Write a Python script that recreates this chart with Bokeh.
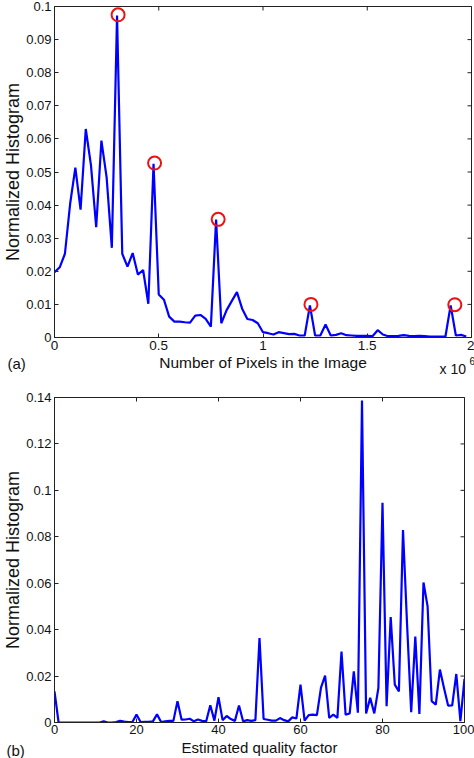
import math
from bokeh.plotting import figure
from bokeh.models import FixedTicker, Title, Range1d
from bokeh.layouts import column
from bokeh.embed import file_html
from bokeh.resources import INLINE

# ---------------- data (a) ----------------
pixels_millions = [0.000, 0.025, 0.050, 0.075, 0.100, 0.125, 0.150, 0.175, 0.200, 0.225,
                   0.250, 0.275, 0.300, 0.325, 0.350, 0.375, 0.400, 0.425, 0.450, 0.475,
                   0.500, 0.525, 0.550, 0.575, 0.600, 0.625, 0.650, 0.675, 0.700, 0.725,
                   0.750, 0.775, 0.800, 0.825, 0.850, 0.875, 0.900, 0.925, 0.950, 0.975,
                   1.000, 1.025, 1.050, 1.075, 1.100, 1.125, 1.150, 1.175, 1.200, 1.225,
                   1.250, 1.275, 1.300, 1.325, 1.350, 1.375, 1.400, 1.425, 1.450, 1.475,
                   1.500, 1.525, 1.550, 1.575, 1.600, 1.625, 1.650, 1.675, 1.700, 1.725,
                   1.750, 1.775, 1.800, 1.825, 1.850, 1.875, 1.900, 1.925, 1.950, 1.975]
hist_a = [0.0197, 0.0212, 0.0253, 0.0404, 0.0513, 0.0386, 0.0630, 0.0520, 0.0333, 0.0595,
          0.0484, 0.0271, 0.0973, 0.0253, 0.0214, 0.0255, 0.0190, 0.0204, 0.0102, 0.0525,
          0.0130, 0.0114, 0.0063, 0.0048, 0.0048, 0.0046, 0.0045, 0.0066, 0.0068, 0.0056,
          0.0033, 0.0356, 0.0043, 0.0082, 0.0110, 0.0137, 0.0087, 0.0056, 0.0053, 0.0043,
          0.0016, 0.0013, 0.0009, 0.0016, 0.0013, 0.0010, 0.0011, 0.0006, 0.0006, 0.0097,
          0.0006, 0.0006, 0.0039, 0.0006, 0.0008, 0.0013, 0.0007, 0.0006, 0.0005, 0.0005,
          0.0005, 0.0004, 0.0022, 0.0009, 0.0004, 0.0004, 0.0005, 0.0007, 0.0005, 0.0004,
          0.0005, 0.0004, 0.0003, 0.0003, 0.0003, 0.0003, 0.0097, 0.0006, 0.0008, 0.0003]
peak_x = [0.305, 0.480, 0.785, 1.230, 1.920]
peak_y = [0.0975, 0.0527, 0.0357, 0.0100, 0.0099]

a_xticks = [0, 0.5, 1, 1.5, 2]
a_xlabels = ["0", "0.5", "1", "1.5", "2"]
a_yticks = [0, 0.01, 0.02, 0.03, 0.04, 0.05, 0.06, 0.07, 0.08, 0.09, 0.1]
a_ylabels = ["0", "0.01", "0.02", "0.03", "0.04", "0.05", "0.06", "0.07", "0.08", "0.09", "0.1"]

# ---------------- data (b) ----------------
quality = [0, 1, 2, 3, 4, 5, 6, 7, 8, 9, 10, 11, 12, 13, 14, 15, 16, 17, 18, 19, 20,
           21, 22, 23, 24, 25, 26, 27, 28, 29, 30, 31, 32, 33, 34, 35, 36, 37, 38, 39, 40,
           41, 42, 43, 44, 45, 46, 47, 48, 49, 50, 51, 52, 53, 54, 55, 56, 57, 58, 59, 60,
           61, 62, 63, 64, 65, 66, 67, 68, 69, 70, 71, 72, 73, 74, 75, 76, 77, 78, 79, 80,
           81, 82, 83, 84, 85, 86, 87, 88, 89, 90, 91, 92, 93, 94, 95, 96, 97, 98, 99, 100]
hist_b = [0.0134, 0.0, 0.0, 0.0, 0.0, 0.0, 0.0, 0.0, 0.0, 0.0, 0.0,
          0.0, 0.0005, 0.0, 0.0, 0.0002, 0.0007, 0.0004, 0.0002, 0.0002, 0.0034,
          0.0002, 0.0003, 0.0003, 0.0005, 0.0035, 0.0002, 0.0005, 0.0007, 0.0007, 0.0092,
          0.0012, 0.0013, 0.0016, 0.0005, 0.0013, 0.0007, 0.0005, 0.0074, 0.0008, 0.0109,
          0.0010, 0.0028, 0.0015, 0.0007, 0.0073, 0.0005, 0.0010, 0.0007, 0.0010, 0.0364,
          0.0015, 0.0012, 0.0008, 0.0008, 0.0019, 0.0010, 0.0005, 0.0022, 0.0017, 0.0163,
          0.0008, 0.0032, 0.0034, 0.0032, 0.0150, 0.0202, 0.0020, 0.0034, 0.0020, 0.0306,
          0.0034, 0.0039, 0.0220, 0.0042, 0.1387, 0.0039, 0.0106, 0.0039, 0.0149, 0.0946,
          0.0070, 0.0454, 0.0163, 0.0134, 0.0829, 0.0420, 0.0044, 0.0370, 0.0037, 0.0603,
          0.0500, 0.0092, 0.0077, 0.0228, 0.0149, 0.0073, 0.0074, 0.0209, 0.0006, 0.0188]

b_xticks = [0, 20, 40, 60, 80, 100]
b_xlabels = ["0", "20", "40", "60", "80", "100"]
b_yticks = [0, 0.02, 0.04, 0.06, 0.08, 0.1, 0.12, 0.14]
b_ylabels = ["0", "0.02", "0.04", "0.06", "0.08", "0.1", "0.12", "0.14"]

FONT = "Liberation Sans"
BLUE = "#0000ff"
INK = "#111111"


def style_axis(ax, ticks, labels, size, standoff):
    ax.ticker = FixedTicker(ticks=ticks)
    ax.major_label_overrides = {t: l for t, l in zip(ticks, labels)}
    ax.major_tick_in = 4
    ax.major_tick_out = 0
    ax.minor_tick_line_color = None
    ax.axis_line_color = "#222222"
    ax.major_tick_line_color = "#222222"
    ax.major_label_text_font = FONT
    ax.major_label_text_font_size = size
    ax.major_label_text_color = INK
    ax.major_label_standoff = standoff
    ax.axis_label_text_font = FONT
    ax.axis_label_text_font_style = "normal"
    ax.axis_label_text_color = INK


def make_fig(width, height, xr, yr, borders):
    p = figure(width=width, height=height, x_range=Range1d(*xr), y_range=Range1d(*yr),
               output_backend="svg", toolbar_location=None,
               min_border_left=borders[0], min_border_right=borders[1],
               min_border_top=borders[2], min_border_bottom=borders[3])
    try:
        p.frame_align = False
    except Exception:
        pass
    p.xgrid.visible = False
    p.ygrid.visible = False
    p.outline_line_color = "#222222"
    p.background_fill_color = "white"
    p.border_fill_color = "white"
    return p


def box_ticks(p, xticks, yticks, xr, yr):
    # inward ticks on the top and right edges (half of each dash is clipped by the frame)
    p.scatter(xticks, [yr[1]] * len(xticks), marker="dash", angle=math.pi / 2, size=8,
              line_color="#222222", line_width=1)
    p.scatter([xr[1]] * len(yticks), yticks, marker="dash", size=8,
              line_color="#222222", line_width=1)


def side_text(p, text, offset, standoff, size):
    p.add_layout(Title(text=text, align="left", offset=offset, standoff=standoff,
                       vertical_align="top", text_font=FONT, text_font_size=size,
                       text_font_style="normal", text_color=INK), "below")


# ---------------- panel (a) ----------------
A_XR, A_YR = (0, 2), (0, 0.1)
pa = make_fig(474, 387, A_XR, A_YR, (51, 3, 6, 50))
pa.line(pixels_millions, hist_a, line_color=BLUE, line_width=2.2)
pa.scatter(peak_x, peak_y, marker="circle", size=13, fill_color=None,
           line_color="#ee1111", line_width=2)
box_ticks(pa, a_xticks, a_yticks, A_XR, A_YR)
style_axis(pa.xaxis[0], a_xticks, a_xlabels, "13.5px", 3)
style_axis(pa.yaxis[0], a_yticks, a_ylabels, "13px", 3)
pa.xaxis[0].axis_label = "Number of Pixels in the Image"
pa.xaxis[0].axis_label_text_font_size = "15.5px"
pa.xaxis[0].axis_label_standoff = 1
pa.yaxis[0].axis_label = "Normalized Histogram"
pa.yaxis[0].axis_label_text_font_size = "18px"
pa.yaxis[0].axis_label_standoff = 0
side_text(pa, "(a)", -47, -37.5, "15px")
side_text(pa, "x 10", 385, -25, "14px")
side_text(pa, "6", 415, -33.5, "10px")

# ---------------- panel (b) ----------------
B_XR, B_YR = (0, 100), (0, 0.14)
pb = make_fig(474, 371, B_XR, B_YR, (51, 10, 10, 35))
pb.line(quality, hist_b, line_color=BLUE, line_width=2.2)
box_ticks(pb, b_xticks, b_yticks, B_XR, B_YR)
style_axis(pb.xaxis[0], b_xticks, b_xlabels, "13px", 2)
style_axis(pb.yaxis[0], b_yticks, b_ylabels, "13px", 3)
pb.xaxis[0].axis_label = "Estimated quality factor"
pb.xaxis[0].axis_label_text_font_size = "15px"
pb.xaxis[0].axis_label_standoff = 2
pb.yaxis[0].axis_label = "Normalized Histogram"
pb.yaxis[0].axis_label_text_font_size = "18px"
pb.yaxis[0].axis_label_standoff = 0
side_text(pb, "(b)", -48, -33.5, "15px")

layout = column(pa, pb, spacing=0)
open("out.html", "w").write(file_html(layout, INLINE))
